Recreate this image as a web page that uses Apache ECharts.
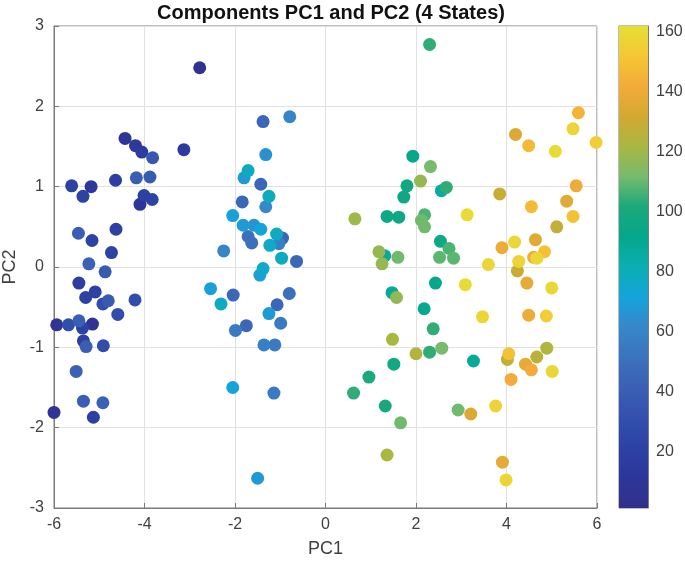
<!DOCTYPE html>
<html>
<head>
<meta charset="utf-8">
<script src="https://cdn.jsdelivr.net/npm/echarts@6/dist/echarts.min.js"></script>
<style>
  html, body { margin: 0; padding: 0; background: #fff; }
  #chart { width: 685px; height: 566px; }
</style>
</head>
<body>
<div id="chart"></div>
<script>
// principal component scores
const pc1 = [
  -4.43, -4.20, -4.06, -3.82, -3.13, -4.18, -3.88, -4.64, -5.61, -5.18, -5.36, -4.01, -3.83, -4.10,
  -5.46, -5.16, -4.63, -2.78, -4.73, -5.23, -4.87, -5.45, -5.09, -5.30, -4.80, -4.92, -4.21, -4.59,
  -5.94, -5.68, -5.45, -5.37, -5.15, -5.35, -5.29, -4.91, -5.51, -5.35, -4.92, -6.00, -5.13,
  -1.38, -0.79, -1.32, -1.71, -1.80, -1.43, -1.25, -1.84, -1.32, -2.05, -1.82, -1.58, -1.43, -1.71,
  -1.63, -1.08, -0.95, -1.23, -1.03, -2.25, -0.97, -0.64, -1.38, -1.45, -2.54, -2.04, -2.31, -0.80,
  -1.07, -1.25, -0.99, -1.75, -1.99, -1.36, -1.12, -2.05, -1.14, -1.50,
  2.30, 1.93, 2.32, 2.10, 1.80, 1.73, 2.56, 2.67, 0.65, 1.36, 1.62, 2.19, 2.12, 2.19, 3.13, 2.54,
  2.73, 1.18, 1.31, 1.60, 1.25, 2.52, 2.83, 2.43, 3.09, 1.47, 1.57, 2.18, 2.38, 1.48, 2.00, 2.30,
  2.57, 3.27, 1.51, 0.96, 0.62, 1.32, 2.93, 3.21, 1.66, 1.36,
  5.59, 5.47, 4.20, 4.49, 5.08, 5.98, 5.54, 3.85, 5.33, 4.55, 5.47, 5.11, 4.64, 4.18, 3.90, 4.84,
  3.60, 4.27, 4.60, 4.67, 4.24, 4.45, 5.00, 3.47, 4.49, 4.88, 4.05, 4.02, 4.89, 4.67, 4.42, 4.55,
  5.01, 4.10, 3.76, 3.91, 3.99
];
const pc2 = [
  1.60, 1.51, 1.43, 1.36, 1.46, 1.11, 1.12, 1.08, 1.01, 1.00, 0.88, 0.89, 0.84, 0.78,
  0.42, 0.33, 0.47, 2.48, 0.18, 0.04, -0.06, -0.20, -0.31, -0.38, -0.42, -0.46, -0.41, -0.59,
  -0.72, -0.72, -0.67, -0.76, -0.71, -0.92, -0.99, -0.98, -1.30, -1.67, -1.69, -1.81, -1.87,
  1.81, 1.87, 1.40, 1.20, 1.11, 1.03, 0.88, 0.81, 0.75, 0.64, 0.52, 0.52, 0.47, 0.38,
  0.30, 0.41, 0.36, 0.27, 0.29, 0.20, 0.11, 0.07, -0.02, -0.10, -0.27, -0.35, -0.46, -0.33,
  -0.47, -0.58, -0.70, -0.73, -0.79, -0.97, -0.97, -1.50, -1.57, -2.63,
  2.77, 1.38, 1.25, 1.07, 1.01, 0.87, 0.95, 0.99, 0.60, 0.63, 0.62, 0.65, 0.58, 0.50, 0.65, 0.32,
  0.23, 0.19, 0.14, 0.12, 0.04, 0.12, 0.11, -0.20, -0.22, -0.32, -0.38, -0.52, -0.77, -0.90, -1.08, -1.06,
  -1.01, -1.17, -1.21, -1.37, -1.57, -1.73, -1.78, -1.83, -1.94, -2.34,
  1.92, 1.72, 1.65, 1.51, 1.44, 1.55, 1.01, 0.91, 0.82, 0.75, 0.63, 0.50, 0.34, 0.31, 0.24, 0.19,
  0.03, 0.07, 0.12, 0.11, -0.05, -0.20, -0.26, -0.62, -0.60, -0.61, -1.08, -1.15, -1.01, -1.12, -1.21, -1.28,
  -1.30, -1.40, -1.73, -2.43, -2.65
];
// colour value of each point
const colorVal = [
  10, 12, 15, 35, 15, 40, 38, 18, 20, 12, 22, 20, 22, 10,
  40, 22, 20, 5, 22, 42, 38, 18, 20, 20, 38, 30, 30, 28,
  8, 30, 40, 20, 8, 18, 40, 28, 42, 40, 42, 8, 20,
  45, 60, 65, 78, 68, 45, 78, 45, 62, 70, 68, 66, 72, 50,
  50, 78, 45, 76, 58, 60, 78, 45, 75, 70, 70, 45, 78, 50,
  45, 68, 55, 45, 55, 58, 55, 72, 55, 68,
  104, 92, 112, 118, 97, 97, 86, 104, 120, 96, 96, 107, 111, 111, 160, 97,
  107, 118, 88, 111, 118, 109, 109, 92, 160, 88, 118, 90, 104, 122, 124, 104,
  112, 88, 98, 102, 104, 100, 111, 135, 111, 122,
  145, 158, 135, 147, 160, 155, 140, 130, 136, 148, 150, 128, 136, 158, 140, 150,
  158, 157, 140, 158, 130, 138, 158, 158, 140, 155, 150, 128, 124, 126, 138, 142,
  158, 142, 157, 138, 158
];
const colorMin = 1;
const colorMax = 162;
const cbTicks = [20, 40, 60, 80, 100, 120, 140, 160];

// parula-like colormap as it looks in the picture
const cmap = [
  '#30308A', '#2E369A', '#2C42A3', '#3350AD', '#3A60B4', '#3B72BE', '#3787CA', '#14A4DB',
  '#0BAFB2', '#05A78B', '#1AA97A', '#76BB6D', '#A8B743', '#D2A931', '#F3AB39', '#F5C633', '#E5E036'
];

const points = pc1.map((x, i) => [x, pc2[i], colorVal[i]])
  .sort((a, b) => a[2] - b[2]);

const chart = echarts.init(document.getElementById('chart'));
const axisCol = '#7a7a7a';
const labelCol = '#404040';
const font = 'Liberation Sans, Arial, sans-serif';

chart.setOption({
  animation: false,
  title: {
    text: 'Components PC1 and PC2 (4 States)',
    left: 326,
    top: -2,
    textAlign: 'center',
    textStyle: { fontFamily: font, fontSize: 20, fontWeight: 'bold', color: '#111' }
  },
  grid: [
    { left: 54, right: 88, top: 26, bottom: 58, show: true, borderColor: axisCol, borderWidth: 1, outerBoundsMode: 'none' },
    { left: 619, right: 37, top: 26, bottom: 58, show: true, borderColor: axisCol, borderWidth: 1, outerBoundsMode: 'none' }
  ],
  xAxis: [
    {
      gridIndex: 0, type: 'value', min: -6, max: 6, interval: 2,
      name: 'PC1', nameLocation: 'middle', nameGap: 32,
      nameTextStyle: { fontFamily: font, fontSize: 18, color: labelCol },
      axisLine: { onZero: false, lineStyle: { color: axisCol } },
      axisTick: { inside: true, length: 5, lineStyle: { color: axisCol } },
      axisLabel: { fontFamily: font, fontSize: 16, color: labelCol, margin: 9 },
      splitLine: { lineStyle: { color: '#e1e1e1' } }
    },
    { gridIndex: 1, type: 'category', data: [''], show: false }
  ],
  yAxis: [
    {
      gridIndex: 0, type: 'value', min: -3, max: 3, interval: 1,
      name: 'PC2', nameLocation: 'middle', nameGap: 29, nameRotate: 90,
      nameTextStyle: { fontFamily: font, fontSize: 18, color: labelCol },
      axisLine: { onZero: false, lineStyle: { color: axisCol } },
      axisTick: { inside: true, length: 5, lineStyle: { color: axisCol } },
      axisLabel: { fontFamily: font, fontSize: 16, color: labelCol, margin: 10 },
      splitLine: { lineStyle: { color: '#e1e1e1' } }
    },
    {
      gridIndex: 1, type: 'value', position: 'right', min: colorMin, max: colorMax,
      axisLine: { show: true, lineStyle: { color: axisCol } },
      axisTick: { show: true, inside: true, length: 4, customValues: cbTicks, lineStyle: { color: '#333' } },
      axisLabel: { fontFamily: font, fontSize: 16, color: labelCol, margin: 8, customValues: cbTicks },
      splitLine: { show: false }
    }
  ],
  visualMap: {
    type: 'continuous', show: false, seriesIndex: 0, dimension: 2,
    min: colorMin, max: colorMax, inRange: { color: cmap }
  },
  series: [
    {
      type: 'scatter', xAxisIndex: 0, yAxisIndex: 0,
      symbolSize: 13, data: points,
      itemStyle: { opacity: 1 }
    },
    {
      type: 'bar', xAxisIndex: 1, yAxisIndex: 1,
      data: [colorMax], barWidth: '100%', silent: true,
      itemStyle: {
        color: new echarts.graphic.LinearGradient(0, 1, 0, 0,
          cmap.map((c, i) => ({ offset: i / (cmap.length - 1), color: c })))
      }
    }
  ]
});
</script>
</body>
</html>
